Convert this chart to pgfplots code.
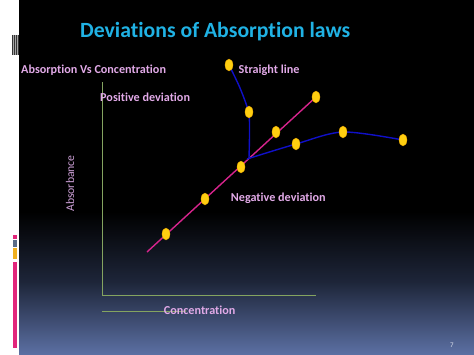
\documentclass[border=0pt]{standalone}
\usepackage{pgfplots}
\pgfplotsset{compat=1.18}
\usetikzlibrary{arrows.meta}
\usepackage{fontspec}
\setmainfont{Carlito}[Ligatures=NoCommon]
\definecolor{titlecyan}{RGB}{32,178,228}
\definecolor{lav}{RGB}{226,170,232}
\definecolor{lavlight}{RGB}{205,160,215}
\definecolor{mag}{RGB}{214,36,140}
\definecolor{bl}{RGB}{16,16,200}
\definecolor{ylw}{RGB}{255,206,16}
\definecolor{ylwedge}{RGB}{230,160,0}
\definecolor{axgreen}{RGB}{132,164,96}
\definecolor{slideblue}{RGB}{92,112,164}
\definecolor{slidemid}{RGB}{30,38,58}
\definecolor{barpink}{RGB}{226,38,124}
\definecolor{bargrey}{RGB}{90,108,136}
\definecolor{baryellow}{RGB}{240,176,32}
\begin{document}
\begin{tikzpicture}
\begin{axis}[
  scale only axis, width=474bp, height=355bp,
  xmin=0, xmax=474, ymin=0, ymax=355, y dir=reverse,
  hide axis, clip=false]
% background
\fill[white] (axis cs:0,0) rectangle (axis cs:474,355);
\fill[black] (axis cs:19,0) rectangle (axis cs:474,212);
\shade[top color=black, bottom color=slidemid] (axis cs:19,211.5) rectangle (axis cs:474,283);
\shade[top color=slidemid, bottom color=slideblue] (axis cs:19,282.5) rectangle (axis cs:474,355);
% left decorations
\fill[gray!70] (axis cs:12,35) rectangle (axis cs:18.5,55);
\draw[black!80, line width=0.8bp] (axis cs:12.8,35) -- (axis cs:12.8,55);
\draw[black!80, line width=0.8bp] (axis cs:14.6,35) -- (axis cs:14.6,55);
\draw[black!80, line width=0.8bp] (axis cs:16.4,35) -- (axis cs:16.4,55);
\draw[black!80, line width=0.8bp] (axis cs:18.2,35) -- (axis cs:18.2,55);
\fill[barpink] (axis cs:13.3,235) rectangle (axis cs:17.3,239);
\fill[bargrey] (axis cs:13.3,240.3) rectangle (axis cs:17.3,246.7);
\fill[baryellow] (axis cs:13.3,248) rectangle (axis cs:17.3,259.3);
\fill[barpink] (axis cs:13.3,261.7) rectangle (axis cs:17.3,348);
% axes lines
\addplot[axgreen, line width=0.9bp, no marks] coordinates {(102,82) (102,295) (316,295)};
\addplot[axgreen, line width=0.9bp, no marks, -{Latex[length=3bp,width=3bp]}] coordinates {(102,311) (187,311)};
% straight line
\addplot[mag, line width=1.4bp, no marks] coordinates {(147,252) (316,97)};
% positive deviation
\addplot[bl, line width=1.4bp, no marks, smooth] coordinates {(249,158) (249.5,132) (248.5,112) (240,88) (229,65)};
% negative deviation
\addplot[bl, line width=1.4bp, no marks, smooth] coordinates {(247,159) (296,144) (343,132) (403,140)};
% markers
\addplot[only marks, mark=*, mark size=6bp, mark options={xscale=0.66, fill=ylw, draw=ylwedge, line width=0.3bp}] coordinates {
 (166,234) (205,199) (241,167) (276,132) (316,97)
 (249,112) (229,65)
 (296,144) (343,132) (403,140)};
% texts
\node[anchor=base west, text=titlecyan, inner sep=0pt, font=\fontsize{21.8}{26}\selectfont\bfseries] at (axis cs:80,37.5) {Deviations of Absorption laws};
\node[anchor=base west, text=lav, inner sep=0pt, font=\fontsize{12.2}{14}\selectfont\bfseries] at (axis cs:21,73) {Absorption Vs Concentration};
\node[anchor=base west, text=lav, inner sep=0pt, font=\fontsize{12.2}{14}\selectfont\bfseries] at (axis cs:100,101) {Positive deviation};
\node[anchor=base west, text=lav, inner sep=0pt, font=\fontsize{12.2}{14}\selectfont\bfseries] at (axis cs:238.5,73) {Straight line};
\node[anchor=base west, text=lav, inner sep=0pt, font=\fontsize{12.2}{14}\selectfont\bfseries] at (axis cs:230.7,201) {Negative deviation};
\node[anchor=base west, text=lav, inner sep=0pt, font=\fontsize{12.2}{14}\selectfont\bfseries] at (axis cs:163.7,314) {Concentration};
\node[anchor=base west, rotate=90, text=lavlight, inner sep=0pt, font=\fontsize{11.8}{14}\selectfont] at (axis cs:74,212) {Absorbance};
\node[anchor=base, text=white!80!slideblue, inner sep=0pt, font=\fontsize{7}{8}\selectfont] at (axis cs:452,347) {7};
\end{axis}
\end{tikzpicture}
\end{document}
